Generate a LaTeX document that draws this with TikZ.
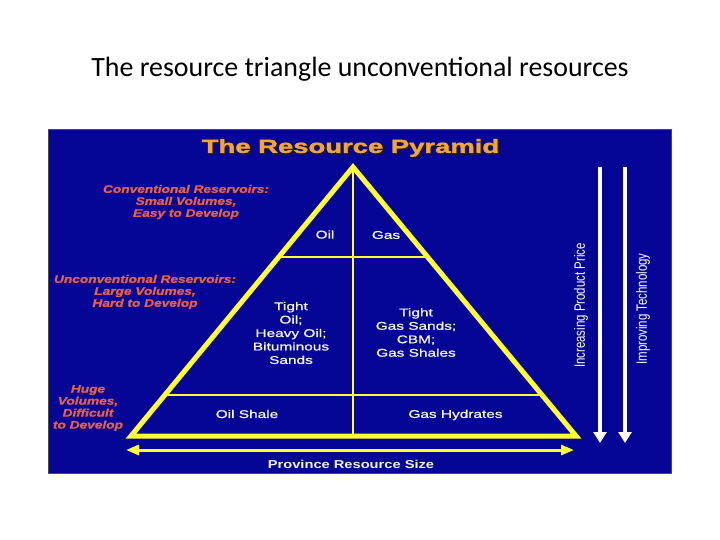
\documentclass[tikz,border=0pt]{standalone}
\usepackage{fontspec}
\setmainfont{Liberation Sans}
\newfontfamily\slidefont{Carlito}
\newfontfamily\pyrtitle[FakeStretch=1.45,FakeBold=2]{Liberation Sans Bold}
\newfontfamily\noteface[FakeStretch=1.25,FakeBold=1.2]{Liberation Sans Bold Italic}
\newfontfamily\cellface[FakeStretch=1.38,FakeBold=1]{Liberation Sans}
\newfontfamily\baseface[FakeStretch=1.28]{Liberation Sans Bold}
\newfontfamily\sideface[FakeStretch=0.765]{Liberation Sans}
\usetikzlibrary{positioning, calc, arrows.meta}
\definecolor{slideblue}{RGB}{6,6,150}
\definecolor{pyryellow}{RGB}{255,255,51}
\definecolor{titleorange}{RGB}{242,165,55}
\definecolor{notered}{RGB}{232,96,72}
\definecolor{celltext}{RGB}{245,245,230}

\begin{document}
\begin{tikzpicture}[x=1bp, y=-1bp,
        cell/.style={font=\cellface\fontsize{11.2}{13.5}\selectfont, text=celltext, align=center, inner sep=0pt},
        note/.style={font=\noteface\fontsize{11}{12}\selectfont, text=notered, align=center, inner sep=0pt},
        side/.style={font=\sideface\fontsize{15}{15}\selectfont, text=white, rotate=90, inner sep=0pt},
        outline/.style={draw=pyryellow, line width=5bp, line join=miter},
        divider/.style={draw=pyryellow, line width=2bp},
        sizearrow/.style={{Triangle[width=10bp,length=13bp]}-{Triangle[width=10bp,length=13bp]}, draw=pyryellow, fill=pyryellow, line width=3bp},
        downarrow/.style={-{Triangle[width=13bp,length=11bp]}, draw=white, fill=white, line width=4bp}
    ]
        \useasboundingbox (0,0) rectangle (720,540);
        \fill[white] (0,0) rectangle (720,540);

        \node[font=\slidefont\fontsize{28}{30}\selectfont] (heading) at (360,69) {The resource triangle unconventional resources};

        \node[draw=black!70, line width=1bp, fill=slideblue, minimum width=623bp, minimum height=344bp, inner sep=0pt, anchor=north west] (panel) at (48,129) {};

        \node[font=\pyrtitle\fontsize{19}{20}\selectfont, text=black!80!brown] at (352,149.5) {The Resource Pyramid};
        \node[font=\pyrtitle\fontsize{19}{20}\selectfont, text=titleorange] (pyrhead) at (350.5,148) {The Resource Pyramid};

        \coordinate (apex) at (353,167);
        \coordinate (bl) at (131,436);
        \coordinate (br) at (576,436);
        \coordinate (foot) at (353,436);

        \draw[divider] ($(apex)!0.3346!(bl)$) -- ($(apex)!0.3346!(br)$);
        \draw[divider] ($(apex)!0.8476!(bl)$) -- ($(apex)!0.8476!(br)$);
        \draw[divider] (apex) -- (foot);
        \draw[outline] (apex) -- (bl) -- (br) -- cycle;

        \node[cell] (oil) at (325,234.5) {Oil};
        \node[cell] (gas) at (386,235) {Gas};
        \node[cell] (tightoil) at (291,333) {Tight\\Oil;\\Heavy Oil;\\Bituminous\\Sands};
        \node[cell] (tightgas) at (416,332.5) {Tight\\Gas Sands;\\CBM;\\Gas Shales};
        \node[cell] (oilshale) at (247,414) {Oil Shale};
        \node[cell] (hydrates) at (455.5,415) {Gas Hydrates};

        \node[note] (conv) at (186,202) {Conventional Reservoirs:\\Small Volumes,\\Easy to Develop};
        \node[note] (unconv) at (145,292) {Unconventional Reservoirs:\\Large Volumes,\\Hard to Develop};
        \node[note] (huge) at (88,408) {Huge\\Volumes,\\Difficult\\to Develop};

        \coordinate (sizeL) at (126,450);
        \coordinate (sizeR) at (574,450);
        \draw[sizearrow] (sizeL) -- (sizeR);
        \node[font=\baseface\fontsize{11.5}{12}\selectfont, text=celltext, inner sep=0pt] (size) at (351,464) {Province Resource Size};

        \coordinate (priceTop) at (600,167);
        \coordinate (priceEnd) at (600,443);
        \coordinate (techTop) at (625,167);
        \coordinate (techEnd) at (625,443);
        \draw[downarrow] (priceTop) -- (priceEnd);
        \draw[downarrow] (techTop) -- (techEnd);
        \node[side] (price) at (581,305.5) {Increasing Product Price};
        \node[side] (tech) at (643,309) {Improving Technology};
    \end{tikzpicture}
\end{document}
